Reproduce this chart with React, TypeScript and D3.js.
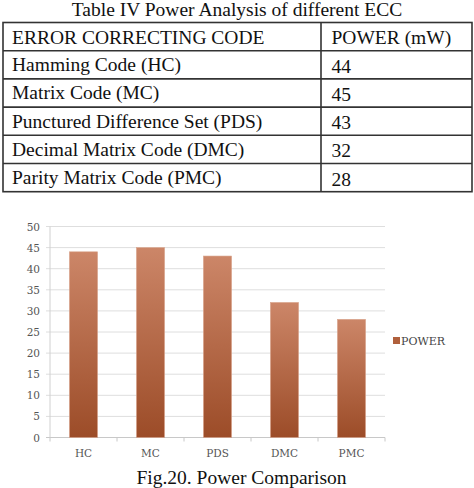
import React from "react";
import * as d3 from "d3";

const tableTitle = "Table IV Power Analysis of different ECC";
const headers = ["ERROR CORRECTING CODE", "POWER (mW)"];
const codeNames = [
  "Hamming Code (HC)",
  "Matrix Code (MC)",
  "Punctured Difference Set (PDS)",
  "Decimal Matrix Code (DMC)",
  "Parity Matrix Code (PMC)",
];
const categories = ["HC", "MC", "PDS", "DMC", "PMC"];
const powerValues = [44, 45, 43, 32, 28];
const yTicks = [0, 5, 10, 15, 20, 25, 30, 35, 40, 45, 50];
const seriesName = "POWER";
const caption = "Fig.20. Power Comparison";

const W = 474;
const H = 488;

export default function App() {
  const serif = { fontFamily: "Liberation Serif" };
  const chartFont = { fontFamily: "DejaVu Serif" };

  // table geometry
  const tLeft = 3;
  const tRight = 472;
  const tDiv = 321;
  const tTop = 22.5;
  const rowH = 28.2;
  const nRows = codeNames.length + 1;

  // chart geometry
  const x = d3
    .scaleBand<string>()
    .domain(categories)
    .range([50, 385])
    .paddingInner(0.58)
    .paddingOuter(0.29);
  const y = d3.scaleLinear().domain([0, 50]).range([437.5, 226.5]);

  const boundaries = categories.map((_, i) => 50 + i * x.step()).concat([385]);

  return (
    <svg
      width={W}
      height={H}
      style={{ position: "absolute", left: 0, top: 0, background: "#fff" }}
    >
      <defs>
        <linearGradient id="barGrad" x1="0" y1="0" x2="0" y2="1">
          <stop offset="0%" stopColor="#cc8668" />
          <stop offset="100%" stopColor="#9c4c28" />
        </linearGradient>
      </defs>
      <rect x={0} y={0} width={W} height={H} fill="#fff" />

      {/* Table title */}
      <text x={237} y={16} textAnchor="middle" style={serif} fontSize={19.5} fill="#111">
        {tableTitle}
      </text>

      {/* Table grid */}
      <g stroke="#333" strokeWidth={1.6} fill="none">
        <rect x={tLeft} y={tTop} width={tRight - tLeft} height={rowH * nRows} />
        {d3.range(1, nRows).map((i) => (
          <line key={i} x1={tLeft} x2={tRight} y1={tTop + i * rowH} y2={tTop + i * rowH} />
        ))}
        <line x1={tDiv} x2={tDiv} y1={tTop} y2={tTop + rowH * nRows} />
      </g>
      <g style={serif} fontSize={19.5} fill="#111">
        <text x={12} y={tTop + 21.5} style={serif}>
          {headers[0]}
        </text>
        <text x={331.5} y={tTop + 21.5} style={serif}>
          {headers[1]}
        </text>
        {codeNames.map((n, i) => (
          <text key={n} x={12} y={tTop + (i + 1) * rowH + 20.5} style={serif}>
            {n}
          </text>
        ))}
        {powerValues.map((v, i) => (
          <text key={i} x={331.5} y={tTop + (i + 1) * rowH + 22} style={serif}>
            {v}
          </text>
        ))}
      </g>

      {/* Chart gridlines */}
      <g>
        {yTicks.map((t) => (
          <line
            key={t}
            x1={46}
            x2={385}
            y1={y(t)}
            y2={y(t)}
            stroke={t === 0 ? "#c8c8c8" : "#dedede"}
            strokeWidth={1}
          />
        ))}
        <line x1={50} x2={50} y1={y(50)} y2={y(0)} stroke="#d0d0d0" />
        {boundaries.map((b, i) => (
          <line key={i} x1={b} x2={b} y1={y(0)} y2={y(0) + 4} stroke="#c8c8c8" />
        ))}
      </g>

      {/* Bars */}
      <g>
        {categories.map((c, i) => (
          <rect
            key={c}
            x={x(c)}
            y={y(powerValues[i])}
            width={x.bandwidth()}
            height={y(0) - y(powerValues[i])}
            fill="url(#barGrad)"
            stroke="#d9a48c"
            strokeWidth={0.6}
          />
        ))}
      </g>

      {/* Y tick labels */}
      <g fontSize={10.5} fill="#555" textAnchor="end">
        {yTicks.map((t) => (
          <text key={t} x={40} y={y(t) + 4} style={chartFont}>
            {t}
          </text>
        ))}
      </g>

      {/* X labels */}
      <g fontSize={10.5} fill="#555" textAnchor="middle">
        {categories.map((c) => (
          <text key={c} x={(x(c) as number) + x.bandwidth() / 2} y={457} style={chartFont}>
            {c}
          </text>
        ))}
      </g>

      {/* Legend */}
      <rect x={393} y={337} width={7} height={7} fill="#b0603c" />
      <text x={401} y={344.5} style={chartFont} fontSize={11} fill="#444">
        {seriesName}
      </text>

      {/* Caption */}
      <text x={241.5} y={484} textAnchor="middle" style={serif} fontSize={19.5} fill="#111">
        {caption}
      </text>
    </svg>
  );
}
